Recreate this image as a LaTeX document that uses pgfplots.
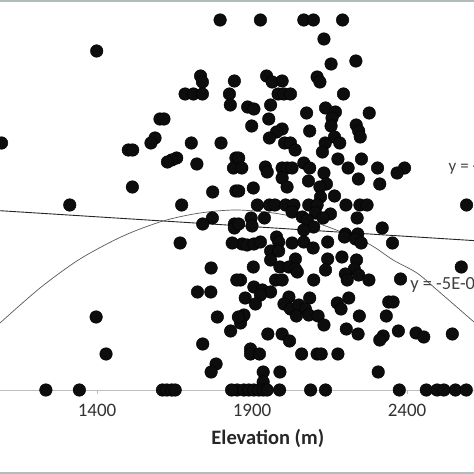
\documentclass[border=0pt]{standalone}
\usepackage{fontspec}
\setmainfont{Carlito}
\usepackage{pgfplots}
\pgfplotsset{compat=1.18}
\definecolor{axisgray}{RGB}{190,190,190}
\definecolor{framegray}{RGB}{178,188,188}
\definecolor{ticktext}{RGB}{50,50,50}
\begin{document}
\begin{tikzpicture}
\begin{axis}[
  scale only axis,
  width=474pt,
  height=390pt,
  xmin=1087, xmax=2616,
  ymin=0, ymax=390,
  axis x line=bottom,
  axis y line=none,
  axis line style={axisgray,-},
  xtick={1400,1900,2400},
  xticklabel style={text=ticktext,font=\fontsize{19}{22}\selectfont,yshift=-7pt},
  /pgf/number format/assume math mode=true,
  /pgf/number format/1000 sep={},
  tick style={axisgray},
  tick align=outside,
  major tick length=4pt,
  xlabel={\textbf{Elevation (m)}},
  xlabel style={font=\fontsize{20.5}{24}\selectfont,text=black!85,at={(axis description cs:0.565,0)},anchor=north,yshift=-36pt},
  clip=false,
]
% linear trend
\addplot[black!85,line width=0.9pt] coordinates {(1087,179.3) (2616,149.4)};
% polynomial trend
\addplot[black!65,line width=0.7pt,smooth] coordinates {
  (1087,67) (1216,102) (1345,131) (1484,154) (1613,169) (1732,177) (1852,180)
  (1990,176) (2119,166) (2271,147) (2355,130) (2432,117) (2497,100) (2616,68)};
\addplot[only marks,mark=*,mark size=6.3pt,mark options={fill=black!95,draw=none}] table {
x y
1797 370
1399 339
1734 314
1740 308
1843 309
1684 296
1711 296
1740 296
1827 296
1830 285
1603 271
1616 271
1587 252
1574 247
1501 240
1515 240
1704 247
1800 247
1092 247
1657 232
1641 230
1627 228
1722 226
1848 232
1840 222
1514 203
1773 198
1848 199
1312 185
1673 185
1772 172
1741 166
1843 166
1843 162
1927 370
2067 370
2098 370
2192 370
2132 351
2155 326
2235 329
1947 314
1965 308
1997 309
2110 313
2119 308
1984 296
2003 296
2024 296
2195 296
1886 283
1906 281
1960 285
2137 282
2169 278
2076 277
2278 277
1954 271
2158 272
2155 264
1899 264
2236 265
2244 259
2249 253
1997 261
1979 258
2086 259
1956 252
2166 253
2183 247
2136 247
2005 247
2024 247
2039 240
2127 238
2177 231
2253 231
1857 232
1867 222
1943 223
1949 218
1997 222
2013 222
2029 222
2067 227
2086 222
2210 222
2305 222
2392 222
2368 217
1997 212
2132 217
2082 209
2243 211
2140 206
2119 203
2312 206
2013 203
1904 202
1857 199
2166 194
2121 193
1917 185
1956 185
1974 185
2008 185
2035 185
2083 185
2110 185
2203 185
2248 185
2271 185
2592 185
2029 178
2062 173
2105 177
2153 176
2129 172
1897 172
1940 172
2239 172
2078 170
1857 166
1900 164
2099 163
2067 160
2320 162
2201 156
2241 156
1979 153
1868 146
1884 145
1906 146
1927 148
1986 148
2029 147
2067 148
2097 142
2144 148
2198 153
2234 151
2252 147
2353 147
1960 139
1986 139
1960 130
2040 131
1990 123
1904 123
2019 123
2040 121
2046 118
2144 131
2137 120
2190 133
2237 130
2575 123
2230 121
2201 116
2207 110
2244 115
2277 110
2379 111
2099 110
1976 110
1997 110
1863 110
1906 103
1933 100
1960 98
1927 95
1878 92
1911 86
2019 93
2086 92
2003 86
2024 81
2051 85
2072 81
2043 74
2083 75
2113 74
2132 65
2175 87
2187 81
2212 92
2341 88
2355 88
2246 74
2333 74
2204 61
2242 56
2372 59
2323 54
2312 50
2429 57
2454 53
2546 56
1951 56
1997 56
2021 49
1868 73
1874 75
1863 67
1895 41
1895 36
1924 36
2060 36
2110 36
2123 36
2177 36
1936 18
1990 18
2307 18
1936 8
1852 0
1874 0
1890 0
1906 0
1922 0
1936 0
1949 0
1989 0
2089 0
2137 0
2375 0
2462 0
2497 0
2519 0
2556 0
2591 0
1668 147
1836 147
1768 122
1851 110
1724 98
1767 98
1788 73
1397 73
1856 73
1831 59
1741 46
1429 36
1784 26
1768 18
1235 0
1343 0
1611 0
1625 0
1641 0
1652 0
1834 0
};
\node[anchor=west,font=\fontsize{17}{20}\selectfont,text=black!75] at (axis cs:2523,221) {y = -};
\node[anchor=west,font=\fontsize{18.5}{22}\selectfont,text=black!75] at (axis cs:2399,105) {y = -5E-07};
\end{axis}
\fill[framegray] (0,388pt) rectangle (474pt,390pt);
\fill[framegray] (0,-84pt) rectangle (474pt,-82pt);
\pgfresetboundingbox
\path[use as bounding box] (0,-84pt) rectangle (474pt,390pt);
\end{tikzpicture}
\end{document}
